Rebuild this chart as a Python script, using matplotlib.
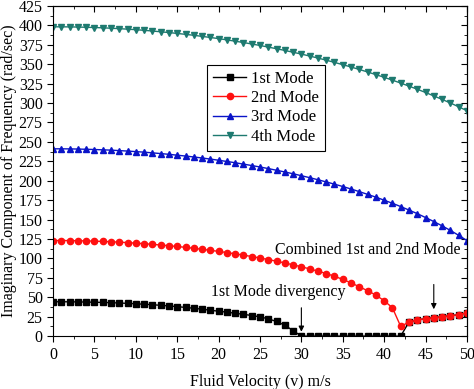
import numpy as np
import matplotlib
matplotlib.use("Agg")
import matplotlib.pyplot as plt

velocity = list(range(0, 51))

mode1 = [44.2, 44.2, 44.1, 44.0, 43.8, 43.6, 43.3, 43.0, 42.6, 42.1,
         41.6, 41.0, 40.4, 39.6, 38.8, 37.9, 36.9, 35.8, 34.6, 33.3,
         32.0, 30.8, 29.4, 28.0, 26.5, 24.8, 22.2, 18.8, 14.0, 7.0,
         0.0, 0.0, 0.0, 0.0, 0.0, 0.0, 0.0, 0.0, 0.0, 0.0,
         0.0, 0.0, 0.0, 18.0, 21.0, 22.3, 23.6, 24.9, 26.2, 27.5,
         30.0]
mode2 = [123.0, 123.0, 122.9, 122.7, 122.5, 122.2, 121.8, 121.4, 120.9, 120.3,
         119.6, 118.9, 118.1, 117.2, 116.3, 115.3, 114.2, 113.0, 111.7, 110.4,
         109.0, 107.5, 105.9, 104.2, 102.4, 100.5, 98.5, 96.4, 94.1, 91.7,
         89.2, 86.5, 83.6, 80.5, 77.0, 73.0, 68.5, 63.5, 58.4, 52.8,
         45.5, 36.5, 12.5, 18.0, 21.0, 22.3, 23.6, 24.9, 26.2, 27.5,
         30.0]
mode3 = [241.0, 241.0, 240.9, 240.7, 240.4, 240.1, 239.7, 239.3, 238.7, 238.1,
         237.4, 236.7, 235.8, 234.9, 233.9, 232.8, 231.7, 230.5, 229.2, 227.8,
         226.3, 224.7, 223.1, 221.3, 219.5, 217.6, 215.6, 213.4, 211.2, 208.9,
         206.4, 203.9, 201.2, 198.4, 195.5, 192.5, 189.3, 185.9, 182.4, 178.8,
         174.9, 170.9, 166.7, 162.2, 157.6, 152.6, 147.4, 141.9, 136.0, 129.7,
         123.0]
mode4 = [398.0, 398.0, 397.9, 397.7, 397.4, 397.1, 396.7, 396.2, 395.6, 395.0,
         394.3, 393.5, 392.6, 391.6, 390.6, 389.5, 388.3, 387.1, 385.7, 384.3,
         382.8, 381.2, 379.5, 377.8, 375.9, 374.0, 371.9, 369.8, 367.6, 365.3,
         362.9, 360.4, 357.8, 355.1, 352.2, 349.3, 346.3, 343.1, 339.9, 336.5,
         333.0, 329.4, 325.6, 321.7, 317.7, 313.5, 309.1, 304.6, 300.0, 295.1,
         290.1]

plt.rcParams["font.family"] = ["Liberation Serif", "DejaVu Serif"]

fig = plt.figure(figsize=(4.74, 3.89), dpi=100)
ax = fig.add_axes([0.112, 0.136, 0.873, 0.849])

ax.plot(velocity, mode1, color="black", marker="s", markersize=4, lw=1, label="1st Mode")
ax.plot(velocity, mode2, color="#ff1010", marker="o", markersize=4.5, lw=1, label="2nd Mode")
ax.plot(velocity, mode3, color="#0a14c8", marker="^", markersize=4.5, lw=1, label="3rd Mode")
ax.plot(velocity, mode4, color="#1e7a70", marker="v", markersize=4.5, lw=1, label="4th Mode")

ax.set_xlim(0, 50)
ax.set_ylim(0, 425)
ax.set_xticks(np.arange(0, 51, 5))
ax.set_yticks(np.arange(0, 426, 25))
ax.set_xticks(np.arange(2.5, 50, 5), minor=True)
ax.set_yticks(np.arange(12.5, 425, 25), minor=True)
ax.tick_params(which="both", direction="out", labelsize=11.5)
ax.tick_params(which="major", length=4)
ax.tick_params(which="minor", length=2.5)

top = ax.secondary_xaxis("top")
top.set_xticks(np.arange(0, 51, 5))
top.set_xticks(np.arange(2.5, 50, 5), minor=True)
top.tick_params(which="both", direction="in", labeltop=False)
top.tick_params(which="major", length=4)
top.tick_params(which="minor", length=2.5)
right = ax.secondary_yaxis("right")
right.set_yticks(np.arange(0, 426, 25))
right.set_yticks(np.arange(12.5, 425, 25), minor=True)
right.tick_params(which="both", direction="in", labelright=False)
right.tick_params(which="major", length=4)
right.tick_params(which="minor", length=2.5)

ax.set_xlabel("Fluid Velocity (v) m/s", fontsize=11.5, labelpad=8)
ax.set_ylabel("Imaginary Component of Frequency (rad/sec)", fontsize=11.5, labelpad=1)

ax.annotate("", xy=(30, 2), xytext=(30, 40),
            arrowprops=dict(arrowstyle="-|>", color="black", lw=0.8, mutation_scale=8))
ax.text(27.2, 46, "1st Mode divergency", ha="center", va="bottom", fontsize=11.5)
ax.annotate("", xy=(46, 31), xytext=(46, 70),
            arrowprops=dict(arrowstyle="-|>", color="black", lw=0.8, mutation_scale=8))
ax.text(38.0, 101, "Combined 1st and 2nd Mode", ha="center", va="bottom", fontsize=11.5)

leg = ax.legend(loc="upper left", bbox_to_anchor=(0.372, 0.821), borderaxespad=0,
                fontsize=12, fancybox=False, edgecolor="black", framealpha=1,
                handlelength=2.0, handletextpad=0.3, borderpad=0.35, labelspacing=0.2)
leg.get_frame().set_linewidth(0.8)

fig.savefig("out.png", dpi=100)
